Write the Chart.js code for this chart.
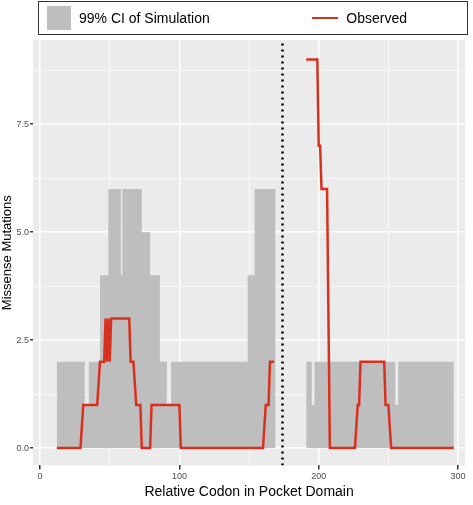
<!DOCTYPE html>
<html>
<head>
<meta charset="utf-8">
<script src="https://cdn.jsdelivr.net/npm/chart.js@4"></script>
<style>
  body { margin: 0; background: #fff; font-family: "Liberation Sans", Arial, sans-serif; }
  #wrap { position: relative; width: 473px; height: 505px; }
  #legend { position: absolute; left: 38px; top: 1px; width: 430px; height: 34px; border: 1px solid #333;
    display: flex; align-items: center; font-size: 14px; color: #000; box-sizing: border-box; }
  .sw { display: inline-block; width: 24px; height: 24px; background: #bebebe; margin: 0 8px 0 8px; }
  .ln { display: inline-block; width: 26px; height: 2px; background: #d7301f; margin: 0 8px 0 0; }
</style>
</head>
<body>
<div id="wrap">
  <div id="legend">
    <span class="sw"></span><span>99% CI of Simulation</span>
    <span style="margin-left:auto"></span><span class="ln"></span><span style="margin-right:60px">Observed</span>
  </div>
  <canvas id="c" width="473" height="505"></canvas>
</div>
<script>
// 99% CI of simulation: upper bound (lower bound is 0), null = no data
const ciCodon = [12, 31, 32, 34, 35, 42, 43, 48, 49, 57, 58, 59, 66, 67, 72, 73, 78, 79, 85, 86, 90, 91, 93, 94, 148, 149, 153, 154, 169, 170,
  191, 194, 195, 197, 254, 255, 257, 297];
const ciUpper = [2, 2, 1, 1, 2, 2, 4, 4, 6, 6, 4, 6, 6, 6, 6, 5, 5, 4, 4, 2, 2, 1, 1, 2, 2, 4, 4, 6, 6, null,
  2, 2, 1, 2, 2, 1, 2, 2];

// observed missense mutations
const obsCodon = [12, 29, 31, 41, 43, 46, 47, 48, 49, 50, 51, 52, 64, 65, 67, 69, 72, 73, 79, 80, 100, 101, 160, 162, 164, 165, 168, 169,
  191, 199, 200, 201, 202, 206, 208, 226, 228, 229, 230, 247, 248, 250, 252, 297];
const obsValue = [0, 0, 1, 1, 2, 2, 3, 2, 3, 2, 3, 3, 3, 2, 2, 1, 1, 0, 0, 1, 1, 0, 0, 1, 1, 2, 2, null,
  9, 9, 7, 7, 6, 6, 0, 0, 1, 1, 2, 2, 1, 1, 0, 0];

const cutCodon = 174;
const xTicks = [0, 100, 200, 300];
const yTicks = [0, 2.5, 5, 7.5];

const pts = (xs, ys) => xs.map((x, i) => ({ x: x, y: ys[i] }));

const panelBg = {
  id: 'panelBg',
  beforeDraw(chart) {
    const a = chart.chartArea, ctx = chart.ctx;
    ctx.save();
    ctx.fillStyle = '#ebebeb';
    ctx.fillRect(a.left, a.top, a.right - a.left, a.bottom - a.top);
    ctx.restore();
  }
};

new Chart(document.getElementById('c'), {
  type: 'line',
  data: {
    datasets: [
      { label: '99% CI of Simulation', order: 3, data: pts(ciCodon, ciUpper), stepped: 'before', fill: { value: 0 },
        backgroundColor: '#bebebe', borderWidth: 0, pointRadius: 0, spanGaps: false },
      { label: 'Observed', order: 1, data: pts(obsCodon, obsValue), borderColor: '#d7301f', borderWidth: 2.5,
        pointRadius: 0, fill: false, spanGaps: false, tension: 0 },
      { label: 'cut', order: 2, data: [{ x: cutCodon, y: -0.4 }, { x: cutCodon, y: 9.45 }], borderColor: '#000',
        borderWidth: 2.5, borderDash: [2, 4], pointRadius: 0, fill: false }
    ]
  },
  options: {
    responsive: false,
    animation: false,
    layout: { padding: { top: 40, right: 8, left: 0, bottom: 0 } },
    plugins: { legend: { display: false }, tooltip: { enabled: false } },
    scales: {
      x: {
        type: 'linear', min: -5, max: 305,
        afterBuildTicks: s => { s.ticks = [0, 50, 100, 150, 200, 250, 300].map(v => ({ value: v })); },
        ticks: { callback: v => xTicks.includes(v) ? v : '', color: '#4d4d4d', font: { size: 9 }, maxRotation: 0, padding: 2 },
        grid: { color: '#fff', lineWidth: c => xTicks.includes(c.tick.value) ? 1.5 : 0.7,
          tickColor: c => xTicks.includes(c.tick.value) ? '#333' : 'rgba(0,0,0,0)', tickLength: 4 },
        border: { display: false },
        title: { display: true, text: 'Relative Codon in Pocket Domain', color: '#000', font: { size: 14 }, padding: { top: 0 } }
      },
      y: {
        min: -0.4, max: 9.45,
        afterBuildTicks: s => { s.ticks = [0, 1.25, 2.5, 3.75, 5, 6.25, 7.5, 8.75].map(v => ({ value: v })); },
        ticks: { callback: v => yTicks.includes(v) ? v.toFixed(1) : '', color: '#4d4d4d', font: { size: 9 }, padding: 1 },
        grid: { color: '#fff', lineWidth: c => yTicks.includes(c.tick.value) ? 1.5 : 0.7,
          tickColor: c => yTicks.includes(c.tick.value) ? '#333' : 'rgba(0,0,0,0)', tickLength: 3 },
        border: { display: false },
        title: { display: true, text: 'Missense Mutations', color: '#000', font: { size: 13 }, padding: { bottom: 0, top: 0 } }
      }
    }
  },
  plugins: [panelBg]
});
</script>
</body>
</html>
